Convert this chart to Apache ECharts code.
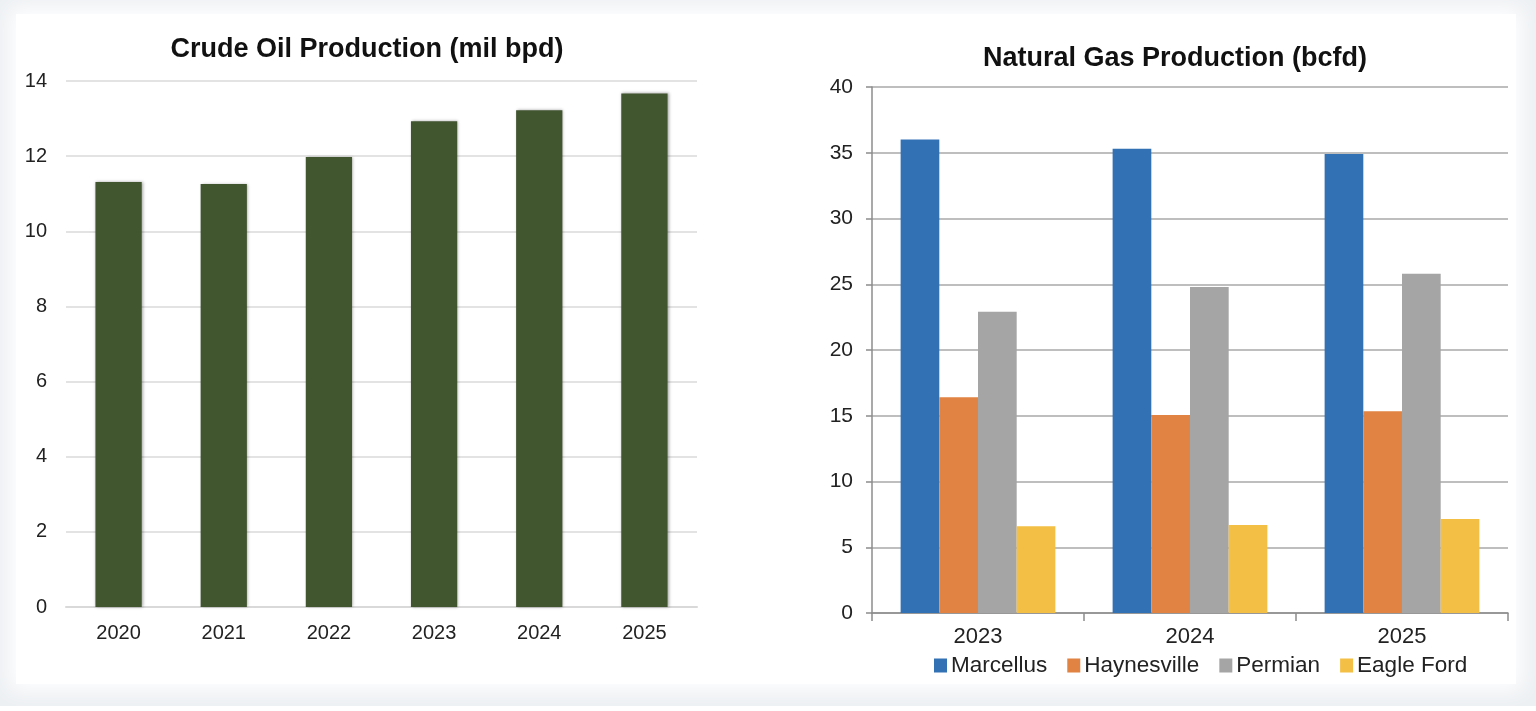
<!DOCTYPE html>
<html>
<head>
<meta charset="utf-8">
<script src="https://cdn.jsdelivr.net/npm/echarts@6/dist/echarts.min.js"></script>
<style>
html,body{margin:0;padding:0;width:1536px;height:711px;overflow:hidden;background:#fff;}
#bg{position:absolute;left:0;top:0;width:1536px;height:706px;background:#edf0f3;}
#card{position:absolute;left:16px;top:14px;width:1500px;height:670px;background:#fff;box-shadow:0 0 20px 6px #fff;}
#chart{position:absolute;left:0;top:0;width:1536px;height:711px;}
</style>
</head>
<body>
<div id="bg"></div>
<div id="card"></div>
<div id="chart"></div>
<script>
const oilYears = ['2020','2021','2022','2023','2024','2025'];
const oilValues = [11.31, 11.26, 11.98, 12.93, 13.22, 13.67];
const oilTicks = [0, 2, 4, 6, 8, 10, 12, 14];

const gasYears = ['2023','2024','2025'];
const marcellus = [36.0, 35.3, 34.9];
const haynesville = [16.4, 15.05, 15.35];
const permian = [22.9, 24.8, 25.8];
const eagleFord = [6.6, 6.7, 7.15];
const gasTicks = [0, 5, 10, 15, 20, 25, 30, 35, 40];

const FONT = "'Liberation Sans', Arial, sans-serif";
const chart = echarts.init(document.getElementById('chart'));

const gasSeries = [
  {name:'Marcellus', data:marcellus, color:'#3371b5'},
  {name:'Haynesville', data:haynesville, color:'#e08343'},
  {name:'Permian', data:permian, color:'#a5a5a5'},
  {name:'Eagle Ford', data:eagleFord, color:'#f4bf45'}
];

chart.setOption({
  backgroundColor: 'transparent',
  animation: false,
  title: [
    {text:'Crude Oil Production (mil bpd)', left:362, top:31, textAlign:'center',
     textStyle:{fontFamily:FONT, fontWeight:'bold', fontSize:27, color:'#111'}},
    {text:'Natural Gas Production (bcfd)', left:1170, top:40, textAlign:'center',
     textStyle:{fontFamily:FONT, fontWeight:'bold', fontSize:27, color:'#111'}}
  ],
  legend: {
    left: 929, top: 649,
    itemWidth: 13, itemHeight: 14, itemGap: 20,
    icon: 'rect',
    data: gasSeries.map(s => s.name),
    textStyle: {fontFamily: FONT, fontSize: 22.5, color: '#222', padding:[0,0,0,-1]}
  },
  grid: [
    {left:66, right:1536-697, top:81, bottom:711-607, containLabel:false},
    {left:872, right:1536-1508, top:87, bottom:711-613, containLabel:false}
  ],
  xAxis: [
    {type:'category', gridIndex:0, data:oilYears,
     axisLine:{show:true, lineStyle:{color:'#d9d9d9', width:2}},
     axisTick:{show:false},
     axisLabel:{fontFamily:FONT, fontSize:20, color:'#222', margin:16}},
    {type:'category', gridIndex:1, data:gasYears,
     axisLine:{show:true, lineStyle:{color:'#8c8c8c', width:1.5}},
     axisTick:{show:true, length:8, lineStyle:{color:'#8c8c8c', width:1.5}},
     axisLabel:{fontFamily:FONT, fontSize:22, color:'#222', margin:13}}
  ],
  yAxis: [
    {type:'value', gridIndex:0, min:oilTicks[0], max:oilTicks[oilTicks.length-1], interval:2,
     axisLine:{show:false}, axisTick:{show:false},
     splitLine:{lineStyle:{color:'#dadada', width:1.5}},
     axisLabel:{fontFamily:FONT, fontSize:20, color:'#222', margin:19}},
    {type:'value', gridIndex:1, min:gasTicks[0], max:gasTicks[gasTicks.length-1], interval:5,
     axisLine:{show:true, lineStyle:{color:'#8c8c8c', width:1.5}},
     axisTick:{show:true, length:6, lineStyle:{color:'#8c8c8c', width:1.5}},
     splitLine:{lineStyle:{color:'#a8a8a8', width:1.5}},
     axisLabel:{fontFamily:FONT, fontSize:21, color:'#222', margin:19}}
  ],
  series: [
    {type:'bar', name:'Crude Oil', xAxisIndex:0, yAxisIndex:0, data:oilValues,
     barWidth:'44%',
     itemStyle:{color:'#41552f', shadowBlur:3, shadowColor:'rgba(0,0,0,0.35)', shadowOffsetX:1}}
  ].concat(gasSeries.map(s => ({
     type:'bar', name:s.name, xAxisIndex:1, yAxisIndex:1, data:s.data,
     barGap:'0%', barCategoryGap:'27%',
     itemStyle:{color:s.color}
  })))
});
</script>
</body>
</html>
